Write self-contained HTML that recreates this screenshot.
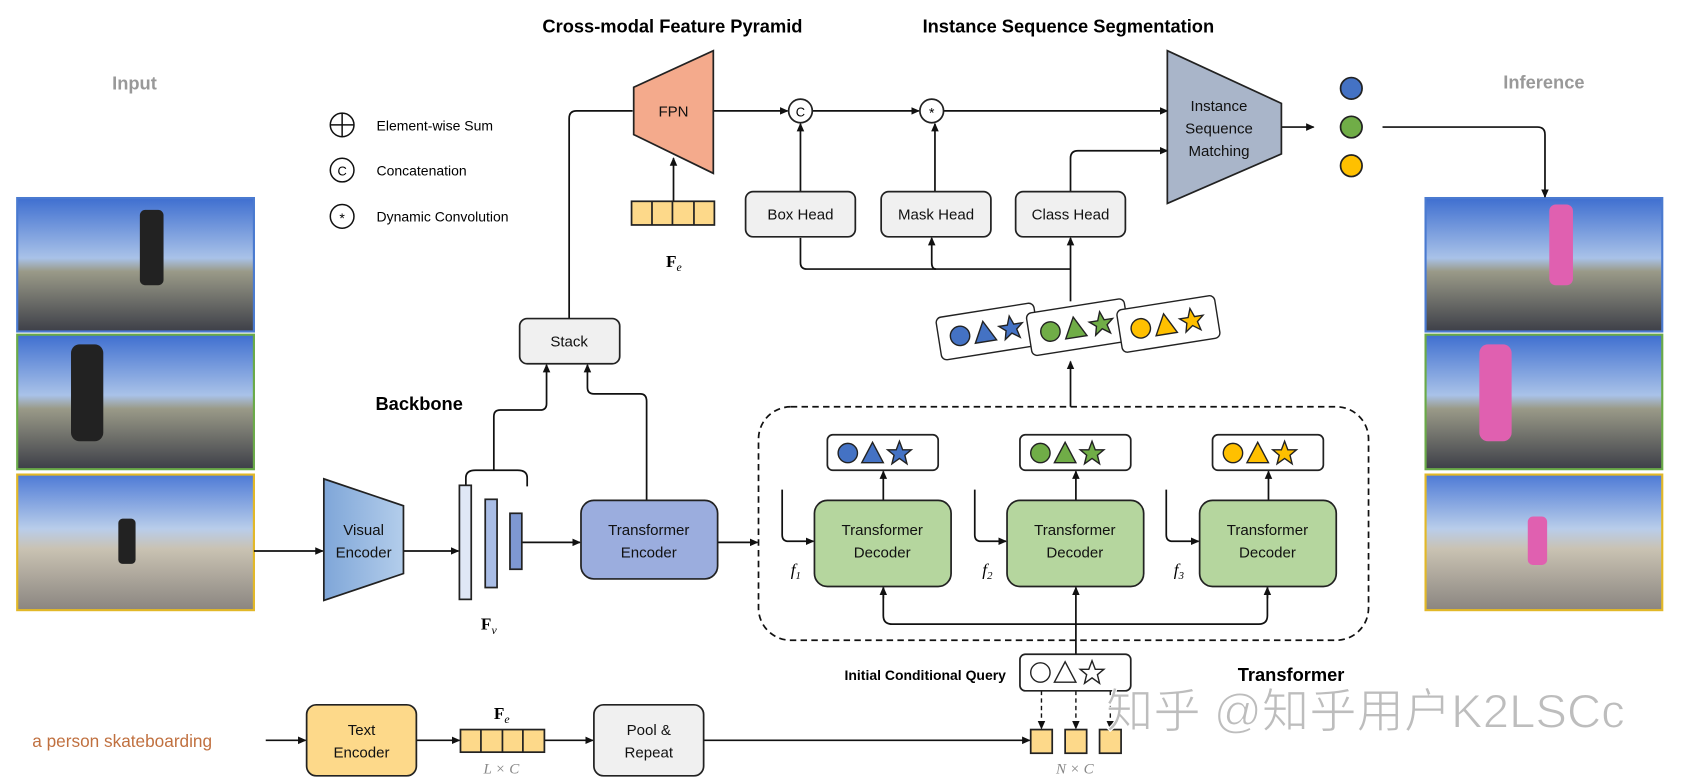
<!DOCTYPE html>
<html><head><meta charset="utf-8"><style>
html,body{margin:0;padding:0;background:#fff;}
svg{display:block;font-family:"Liberation Sans","Noto Sans CJK SC",sans-serif;}
</style></head><body>
<svg width="1687" height="777" viewBox="0 0 1568 722" xmlns="http://www.w3.org/2000/svg">
<defs>
<marker id="a" markerWidth="8" markerHeight="8" refX="7" refY="4" orient="auto" markerUnits="userSpaceOnUse"><path d="M0,0.5 L8,4 L0,7.5z" fill="#111"/></marker>
<linearGradient id="ve" x1="0" y1="0" x2="1" y2="0"><stop offset="0" stop-color="#7fa6d8"/><stop offset="1" stop-color="#b3cdeb"/></linearGradient>
<linearGradient id="sky" x1="0" y1="0" x2="0" y2="1"><stop offset="0" stop-color="#3f6fd0"/><stop offset="0.45" stop-color="#a9c2e8"/><stop offset="0.55" stop-color="#9a9a88"/><stop offset="1" stop-color="#3d3f48"/></linearGradient>
<linearGradient id="sky2" x1="0" y1="0" x2="0" y2="1"><stop offset="0" stop-color="#4d7ad6"/><stop offset="0.4" stop-color="#b9cdea"/><stop offset="0.55" stop-color="#c9c2b2"/><stop offset="1" stop-color="#8a8580"/></linearGradient>
</defs>
<text x="625" y="30" font-size="17" font-weight="bold" text-anchor="middle">Cross-modal Feature Pyramid</text>
<text x="993" y="30" font-size="17" font-weight="bold" text-anchor="middle">Instance Sequence Segmentation</text>
<text x="125" y="83" font-size="17" font-weight="bold" fill="#999" text-anchor="middle">Input</text>
<text x="1435" y="82" font-size="17" font-weight="bold" fill="#999" text-anchor="middle">Inference</text>
<text x="349" y="381" font-size="17" font-weight="bold">Backbone</text>
<text x="1200" y="633" font-size="17" font-weight="bold" text-anchor="middle">Transformer</text>

<!-- legend -->
<g stroke="#111" stroke-width="1.4" fill="#fff">
<circle cx="318" cy="116" r="11"/><line x1="307" y1="116" x2="329" y2="116"/><line x1="318" y1="105" x2="318" y2="127"/>
<circle cx="318" cy="158" r="11"/><circle cx="318" cy="201" r="11"/>
</g>
<text x="318" y="163" font-size="12" text-anchor="middle">C</text>
<text x="318" y="207" font-size="13" text-anchor="middle">*</text>
<text x="350" y="121" font-size="13">Element-wise Sum</text>
<text x="350" y="163" font-size="13">Concatenation</text>
<text x="350" y="206" font-size="13">Dynamic Convolution</text>

<!-- images -->
<rect x="16" y="184" width="220" height="124" fill="url(#sky)" stroke="#4a7ad0" stroke-width="2"/>
<rect x="16" y="311" width="220" height="125" fill="url(#sky)" stroke="#6aaa48" stroke-width="2"/>
<rect x="16" y="441" width="220" height="126" fill="url(#sky2)" stroke="#e2b828" stroke-width="2"/>
<rect x="1325" y="184" width="220" height="124" fill="url(#sky)" stroke="#4a7ad0" stroke-width="2"/>
<rect x="1325" y="311" width="220" height="125" fill="url(#sky)" stroke="#6aaa48" stroke-width="2"/>
<rect x="1325" y="441" width="220" height="126" fill="url(#sky2)" stroke="#e2b828" stroke-width="2"/>
<g fill="#e060b0"><rect x="1440" y="190" width="22" height="75" rx="6"/><rect x="1375" y="320" width="30" height="90" rx="8"/><rect x="1420" y="480" width="18" height="45" rx="5"/></g>
<g fill="#222"><rect x="130" y="195" width="22" height="70" rx="5"/><rect x="66" y="320" width="30" height="90" rx="8"/><rect x="110" y="482" width="16" height="42" rx="4"/></g>

<!-- arrows & lines -->
<g fill="none" stroke="#111" stroke-width="1.6">
<line x1="236" y1="512" x2="300" y2="512" marker-end="url(#a)"/>
<line x1="375" y1="512" x2="426" y2="512" marker-end="url(#a)"/>
<line x1="485" y1="504" x2="539" y2="504" marker-end="url(#a)"/>
<line x1="667" y1="504" x2="704" y2="504" marker-end="url(#a)"/>
<path d="M433,452 V444 Q433,437 442,437 H481 Q490,437 490,444 V452"/>
<path d="M459,437 V387 Q459,381 465,381 H502 Q508,381 508,375 V339" marker-end="url(#a)"/>
<path d="M601,465 V373 Q601,366 595,366 H552 Q546,366 546,360 V339" marker-end="url(#a)"/>
<path d="M529,296 V110 Q529,103 536,103 H588"/>
<line x1="626" y1="187" x2="626" y2="147" marker-end="url(#a)"/>
<line x1="663" y1="103" x2="732" y2="103" marker-end="url(#a)"/>
<line x1="755" y1="103" x2="854" y2="103" marker-end="url(#a)"/>
<line x1="877" y1="103" x2="1085" y2="103" marker-end="url(#a)"/>
<line x1="744" y1="178" x2="744" y2="115" marker-end="url(#a)"/>
<line x1="869" y1="178" x2="869" y2="115" marker-end="url(#a)"/>
<path d="M995,178 V147 Q995,140 1002,140 H1085" marker-end="url(#a)"/>
<line x1="1191" y1="118" x2="1221" y2="118" marker-end="url(#a)"/>
<path d="M1285,118 H1429 Q1436,118 1436,125 V183" marker-end="url(#a)"/>
<path d="M744,221 V244 Q744,250 750,250 H995"/>
<path d="M870,250 Q866,250 866,244 V221" marker-end="url(#a)"/>
<line x1="995" y1="280" x2="995" y2="221" marker-end="url(#a)"/>
<line x1="995" y1="378" x2="995" y2="336" marker-end="url(#a)"/>
<rect x="705" y="378" width="567" height="217" rx="30" stroke-dasharray="6,4"/>
<line x1="821" y1="465" x2="821" y2="438" marker-end="url(#a)"/>
<line x1="1000" y1="465" x2="1000" y2="438" marker-end="url(#a)"/>
<line x1="1179" y1="465" x2="1179" y2="438" marker-end="url(#a)"/>
<path d="M727,455 V497 Q727,503 733,503 H756" marker-end="url(#a)"/>
<path d="M906,455 V497 Q906,503 912,503 H935" marker-end="url(#a)"/>
<path d="M1084,455 V497 Q1084,503 1090,503 H1114" marker-end="url(#a)"/>
<path d="M821,546 V572 Q821,580 829,580 H1170 Q1178,580 1178,572 V546"/>
<line x1="821" y1="556" x2="821" y2="546" marker-end="url(#a)"/>
<line x1="1178" y1="556" x2="1178" y2="546" marker-end="url(#a)"/>
<line x1="1000" y1="608" x2="1000" y2="546" marker-end="url(#a)"/>
<g stroke-dasharray="4,3" stroke-width="1.3"><line x1="968" y1="642" x2="968" y2="677" marker-end="url(#a)"/><line x1="1000" y1="642" x2="1000" y2="677" marker-end="url(#a)"/><line x1="1032" y1="642" x2="1032" y2="677" marker-end="url(#a)"/></g>
<line x1="247" y1="688" x2="284" y2="688" marker-end="url(#a)"/>
<line x1="387" y1="688" x2="427" y2="688" marker-end="url(#a)"/>
<line x1="506" y1="688" x2="551" y2="688" marker-end="url(#a)"/>
<line x1="654" y1="688" x2="957" y2="688" marker-end="url(#a)"/>
</g>

<!-- shapes -->
<g stroke="#222" stroke-width="1.6">
<polygon points="301,445 375,470 375,533 301,558" fill="url(#ve)"/>
<rect x="427" y="451" width="11" height="106" fill="#dfe7f6"/>
<rect x="451" y="464" width="11" height="82" fill="#a9bde6"/>
<rect x="474" y="477" width="11" height="52" fill="#7e98d2"/>
<rect x="540" y="465" width="127" height="73" rx="12" fill="#9badde"/>
<rect x="483" y="296" width="93" height="42" rx="7" fill="#f0f0f0"/>
<polygon points="589,81 663,47 663,161 589,125" fill="#f4aa8c"/>
<rect x="587" y="187" width="77" height="22" fill="#fdd98a"/>
<line x1="606" y1="187" x2="606" y2="209"/><line x1="625" y1="187" x2="625" y2="209"/><line x1="645" y1="187" x2="645" y2="209"/>
<circle cx="744" cy="103" r="11" fill="#fff"/>
<circle cx="866" cy="103" r="11" fill="#fff"/>
<polygon points="1085,47 1191,96 1191,143 1085,189" fill="#a9b5c9"/>
<rect x="693" y="178" width="102" height="42" rx="7" fill="#f0f0f0"/>
<rect x="819" y="178" width="102" height="42" rx="7" fill="#f0f0f0"/>
<rect x="944" y="178" width="102" height="42" rx="7" fill="#f0f0f0"/>
<circle cx="1256" cy="82" r="10" fill="#4472c4"/>
<circle cx="1256" cy="118" r="10" fill="#70ad47"/>
<circle cx="1256" cy="154" r="10" fill="#ffc000"/>
<rect x="757" y="465" width="127" height="80" rx="12" fill="#b5d69e"/>
<rect x="936" y="465" width="127" height="80" rx="12" fill="#b5d69e"/>
<rect x="1115" y="465" width="127" height="80" rx="12" fill="#b5d69e"/>
<rect x="769" y="404" width="103" height="33" rx="5" fill="#fff"/>
<rect x="948" y="404" width="103" height="33" rx="5" fill="#fff"/>
<rect x="1127" y="404" width="103" height="33" rx="5" fill="#fff"/>
<rect x="948" y="608" width="103" height="34" rx="5" fill="#fff"/>
<rect x="958" y="678" width="20" height="22" fill="#fdd98a"/>
<rect x="990" y="678" width="20" height="22" fill="#fdd98a"/>
<rect x="1022" y="678" width="20" height="22" fill="#fdd98a"/>
<rect x="285" y="655" width="102" height="66" rx="9" fill="#fdd98a"/>
<rect x="428" y="678" width="78" height="21" fill="#fdd98a"/>
<line x1="447" y1="678" x2="447" y2="699"/><line x1="467" y1="678" x2="467" y2="699"/><line x1="486" y1="678" x2="486" y2="699"/>
<rect x="552" y="655" width="102" height="66" rx="9" fill="#f0f0f0"/>
</g>
<text x="744" y="108" font-size="12" text-anchor="middle">C</text>
<text x="866" y="109" font-size="13" text-anchor="middle">*</text>

<!-- shape triplets -->
<g stroke="#222" stroke-width="1.3">
<g transform="translate(788,421)"><circle cx="0" cy="0" r="9" fill="#4472c4"/><polygon points="23,-10 33,9 13,9" fill="#4472c4"/><polygon points="48,-11 51,-3 59,-3 53,2 55,10 48,5 41,10 43,2 37,-3 45,-3" fill="#4472c4"/></g>
<g transform="translate(967,421)"><circle cx="0" cy="0" r="9" fill="#70ad47"/><polygon points="23,-10 33,9 13,9" fill="#70ad47"/><polygon points="48,-11 51,-3 59,-3 53,2 55,10 48,5 41,10 43,2 37,-3 45,-3" fill="#70ad47"/></g>
<g transform="translate(1146,421)"><circle cx="0" cy="0" r="9" fill="#ffc000"/><polygon points="23,-10 33,9 13,9" fill="#ffc000"/><polygon points="48,-11 51,-3 59,-3 53,2 55,10 48,5 41,10 43,2 37,-3 45,-3" fill="#ffc000"/></g>
<g transform="translate(967,625)"><circle cx="0" cy="0" r="9" fill="#fff"/><polygon points="23,-10 33,9 13,9" fill="#fff"/><polygon points="48,-11 51,-3 59,-3 53,2 55,10 48,5 41,10 43,2 37,-3 45,-3" fill="#fff"/></g>
<g transform="translate(918,308) rotate(-9)"><rect x="-46" y="-20" width="92" height="40" rx="5" fill="#fff"/><g transform="translate(-26,0)"><circle r="9" fill="#4472c4"/><polygon points="23,-10 33,9 13,9" fill="#4472c4"/><polygon points="48,-11 51,-3 59,-3 53,2 55,10 48,5 41,10 43,2 37,-3 45,-3" fill="#4472c4"/></g></g>
<g transform="translate(1002,304) rotate(-9)"><rect x="-46" y="-20" width="92" height="40" rx="5" fill="#fff"/><g transform="translate(-26,0)"><circle r="9" fill="#70ad47"/><polygon points="23,-10 33,9 13,9" fill="#70ad47"/><polygon points="48,-11 51,-3 59,-3 53,2 55,10 48,5 41,10 43,2 37,-3 45,-3" fill="#70ad47"/></g></g>
<g transform="translate(1086,301) rotate(-9)"><rect x="-46" y="-20" width="92" height="40" rx="5" fill="#fff"/><g transform="translate(-26,0)"><circle r="9" fill="#ffc000"/><polygon points="23,-10 33,9 13,9" fill="#ffc000"/><polygon points="48,-11 51,-3 59,-3 53,2 55,10 48,5 41,10 43,2 37,-3 45,-3" fill="#ffc000"/></g></g>
</g>

<!-- labels -->
<g font-size="14" text-anchor="middle" fill="#111">
<text x="338" y="497">Visual</text><text x="338" y="518">Encoder</text>
<text x="603" y="497">Transformer</text><text x="603" y="518">Encoder</text>
<text x="529" y="322">Stack</text>
<text x="626" y="108">FPN</text>
<text x="744" y="204">Box Head</text>
<text x="870" y="204">Mask Head</text>
<text x="995" y="204">Class Head</text>
<text x="1133" y="103">Instance</text><text x="1133" y="124">Sequence</text><text x="1133" y="145">Matching</text>
<text x="820" y="497">Transformer</text><text x="820" y="518">Decoder</text>
<text x="999" y="497">Transformer</text><text x="999" y="518">Decoder</text>
<text x="1178" y="497">Transformer</text><text x="1178" y="518">Decoder</text>
<text x="336" y="683">Text</text><text x="336" y="704">Encoder</text>
<text x="603" y="683">Pool &amp;</text><text x="603" y="704">Repeat</text>
</g>
<text x="935" y="632" font-size="13" font-weight="bold" text-anchor="end">Initial Conditional Query</text>
<text x="30" y="694" font-size="16" fill="#c0703f">a person skateboarding</text>
<g font-family="Liberation Serif,serif" font-size="16">
<text x="619" y="248" font-weight="bold">F<tspan font-size="11" font-style="italic" font-weight="normal" dy="4">e</tspan></text>
<text x="447" y="585" font-weight="bold">F<tspan font-size="11" font-style="italic" font-weight="normal" dy="4">v</tspan></text>
<text x="459" y="668" font-weight="bold">F<tspan font-size="11" font-style="italic" font-weight="normal" dy="4">e</tspan></text>
<text x="466" y="719" font-style="italic" fill="#888" font-size="14" text-anchor="middle">L × C</text>
<text x="999" y="719" font-style="italic" fill="#888" font-size="14" text-anchor="middle">N × C</text>
<text x="735" y="535" font-style="italic">f<tspan font-size="10" dy="3">1</tspan></text>
<text x="913" y="535" font-style="italic">f<tspan font-size="10" dy="3">2</tspan></text>
<text x="1091" y="535" font-style="italic">f<tspan font-size="10" dy="3">3</tspan></text>
</g>
<text x="1028" y="676" font-size="44" fill="#bdbdbd" stroke="#fff" stroke-width="1">知乎 @知乎用户K2LSCc</text>
</svg>
</body></html>
